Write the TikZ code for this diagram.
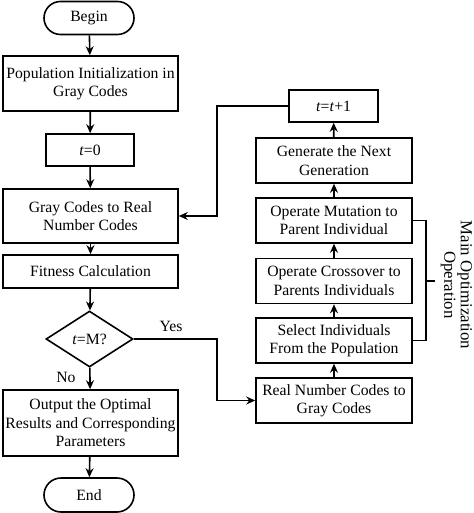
\documentclass[tikz,border=0pt]{standalone}
\usepackage{fontspec}
\setmainfont{Liberation Serif}
\usetikzlibrary{arrows.meta,positioning,shapes.geometric,shapes.misc}
\tikzset{
  stepbox/.style={rectangle,draw=black,fill=white,text=black,align=center,
    inner sep=1pt,line width=1.6pt,font=\fontsize{15.7bp}{18.5bp}\selectfont},
  termbox/.style={rounded rectangle,draw=black,fill=white,text=black,
    minimum width=92bp,minimum height=33bp,inner sep=1pt,line width=1.6pt,
    font=\fontsize{15.7bp}{18.5bp}\selectfont},
  decbox/.style={diamond,draw=black,fill=white,text=black,aspect=1.55,
    minimum width=87bp,minimum height=56bp,inner sep=0pt,line width=1.6pt,
    font=\fontsize{15.7bp}{18.5bp}\selectfont},
  flowedge/.style={-{Stealth[length=9pt,width=8pt]},line width=1.6pt},
  bracket/.style={line width=1.6pt},
  flowlabel/.style={font=\fontsize{15.7bp}{18.5bp}\selectfont},
}
\begin{document}
\begin{tikzpicture}[x=1bp,y=-1bp]
  \useasboundingbox (0,0) rectangle (474,513);
  % left column
  \node[termbox] (begin) at (89,18) {Begin};
  \node[stepbox,minimum width=175bp,minimum height=55bp] (init) at (90.5,83.5)
    {Population Initialization in\\Gray Codes};
  \node[stepbox,minimum width=88bp,minimum height=32bp] (tzero) at (90,150) {\textit{t}=0};
  \node[stepbox,minimum width=175bp,minimum height=54bp] (g2r) at (90.5,216)
    {Gray Codes to Real\\Number Codes};
  \node[stepbox,minimum width=175bp,minimum height=33bp] (fit) at (90.5,271.5)
    {Fitness Calculation};
  \node[decbox] (check) at (89.5,339) {\textit{t}=M?};
  \node[stepbox,minimum width=175bp,minimum height=66bp] (out) at (90.5,423)
    {Output the Optimal\\Results and Corresponding\\Parameters};
  \node[termbox,minimum height=34bp] (end) at (89,495) {End};
  % right column
  \node[stepbox,minimum width=89bp,minimum height=32bp] (tinc) at (333.5,106)
    {\textit{t}=\textit{t}+1};
  \node[stepbox,minimum width=156bp,minimum height=45bp] (gen) at (334,160.5)
    {Generate the Next\\Generation};
  \node[stepbox,minimum width=156bp,minimum height=45bp] (mut) at (334,220.5)
    {Operate Mutation to\\Parent Individual};
  \node[stepbox,minimum width=156bp,minimum height=45bp] (cross) at (334,281)
    {Operate Crossover to\\Parents Individuals};
  \node[stepbox,minimum width=156bp,minimum height=45bp] (sel) at (334,340.5)
    {Select Individuals\\From the Population};
  \node[stepbox,minimum width=156bp,minimum height=45bp] (r2g) at (334,400.5)
    {Real Number Codes to\\Gray Codes};
  \node[rotate=-90,align=center,font=\fontsize{16.8bp}{16.5bp}\selectfont] (mainop) at (456.5,285)
    {Main Optimization\\Operation};
  \coordinate (bus) at (217,0);
  \coordinate (brk) at (426,281);
  \coordinate (brktip) at (435,281);
  % connectors
  \draw[flowedge] (begin) -- (init);
  \draw[flowedge] (init) -- (tzero);
  \draw[flowedge] (tzero) -- (g2r);
  \draw[flowedge] (g2r) -- (fit);
  \draw[flowedge] (fit) -- (check);
  \draw[flowedge] (check) -- (out);
  \draw[flowedge] (out) -- (end);
  \draw[flowedge] (check.east) -- (check.east -| bus) |- (r2g.west);
  \draw[flowedge] (r2g) -- (sel);
  \draw[flowedge] (sel) -- (cross);
  \draw[flowedge] (cross) -- (mut);
  \draw[flowedge] (mut) -- (gen);
  \draw[flowedge] (gen) -- (tinc);
  \draw[flowedge] (tinc.west) -| (bus |- g2r.east) -- (g2r.east);
  \draw[bracket] (mut.east) -| (brk) |- (sel.east);
  \draw[bracket] (brk) -- (brktip);
  \node[flowlabel] (yes) at (171,326) {Yes};
  \node[flowlabel] (no) at (66,377) {No};
\end{tikzpicture}
\end{document}
